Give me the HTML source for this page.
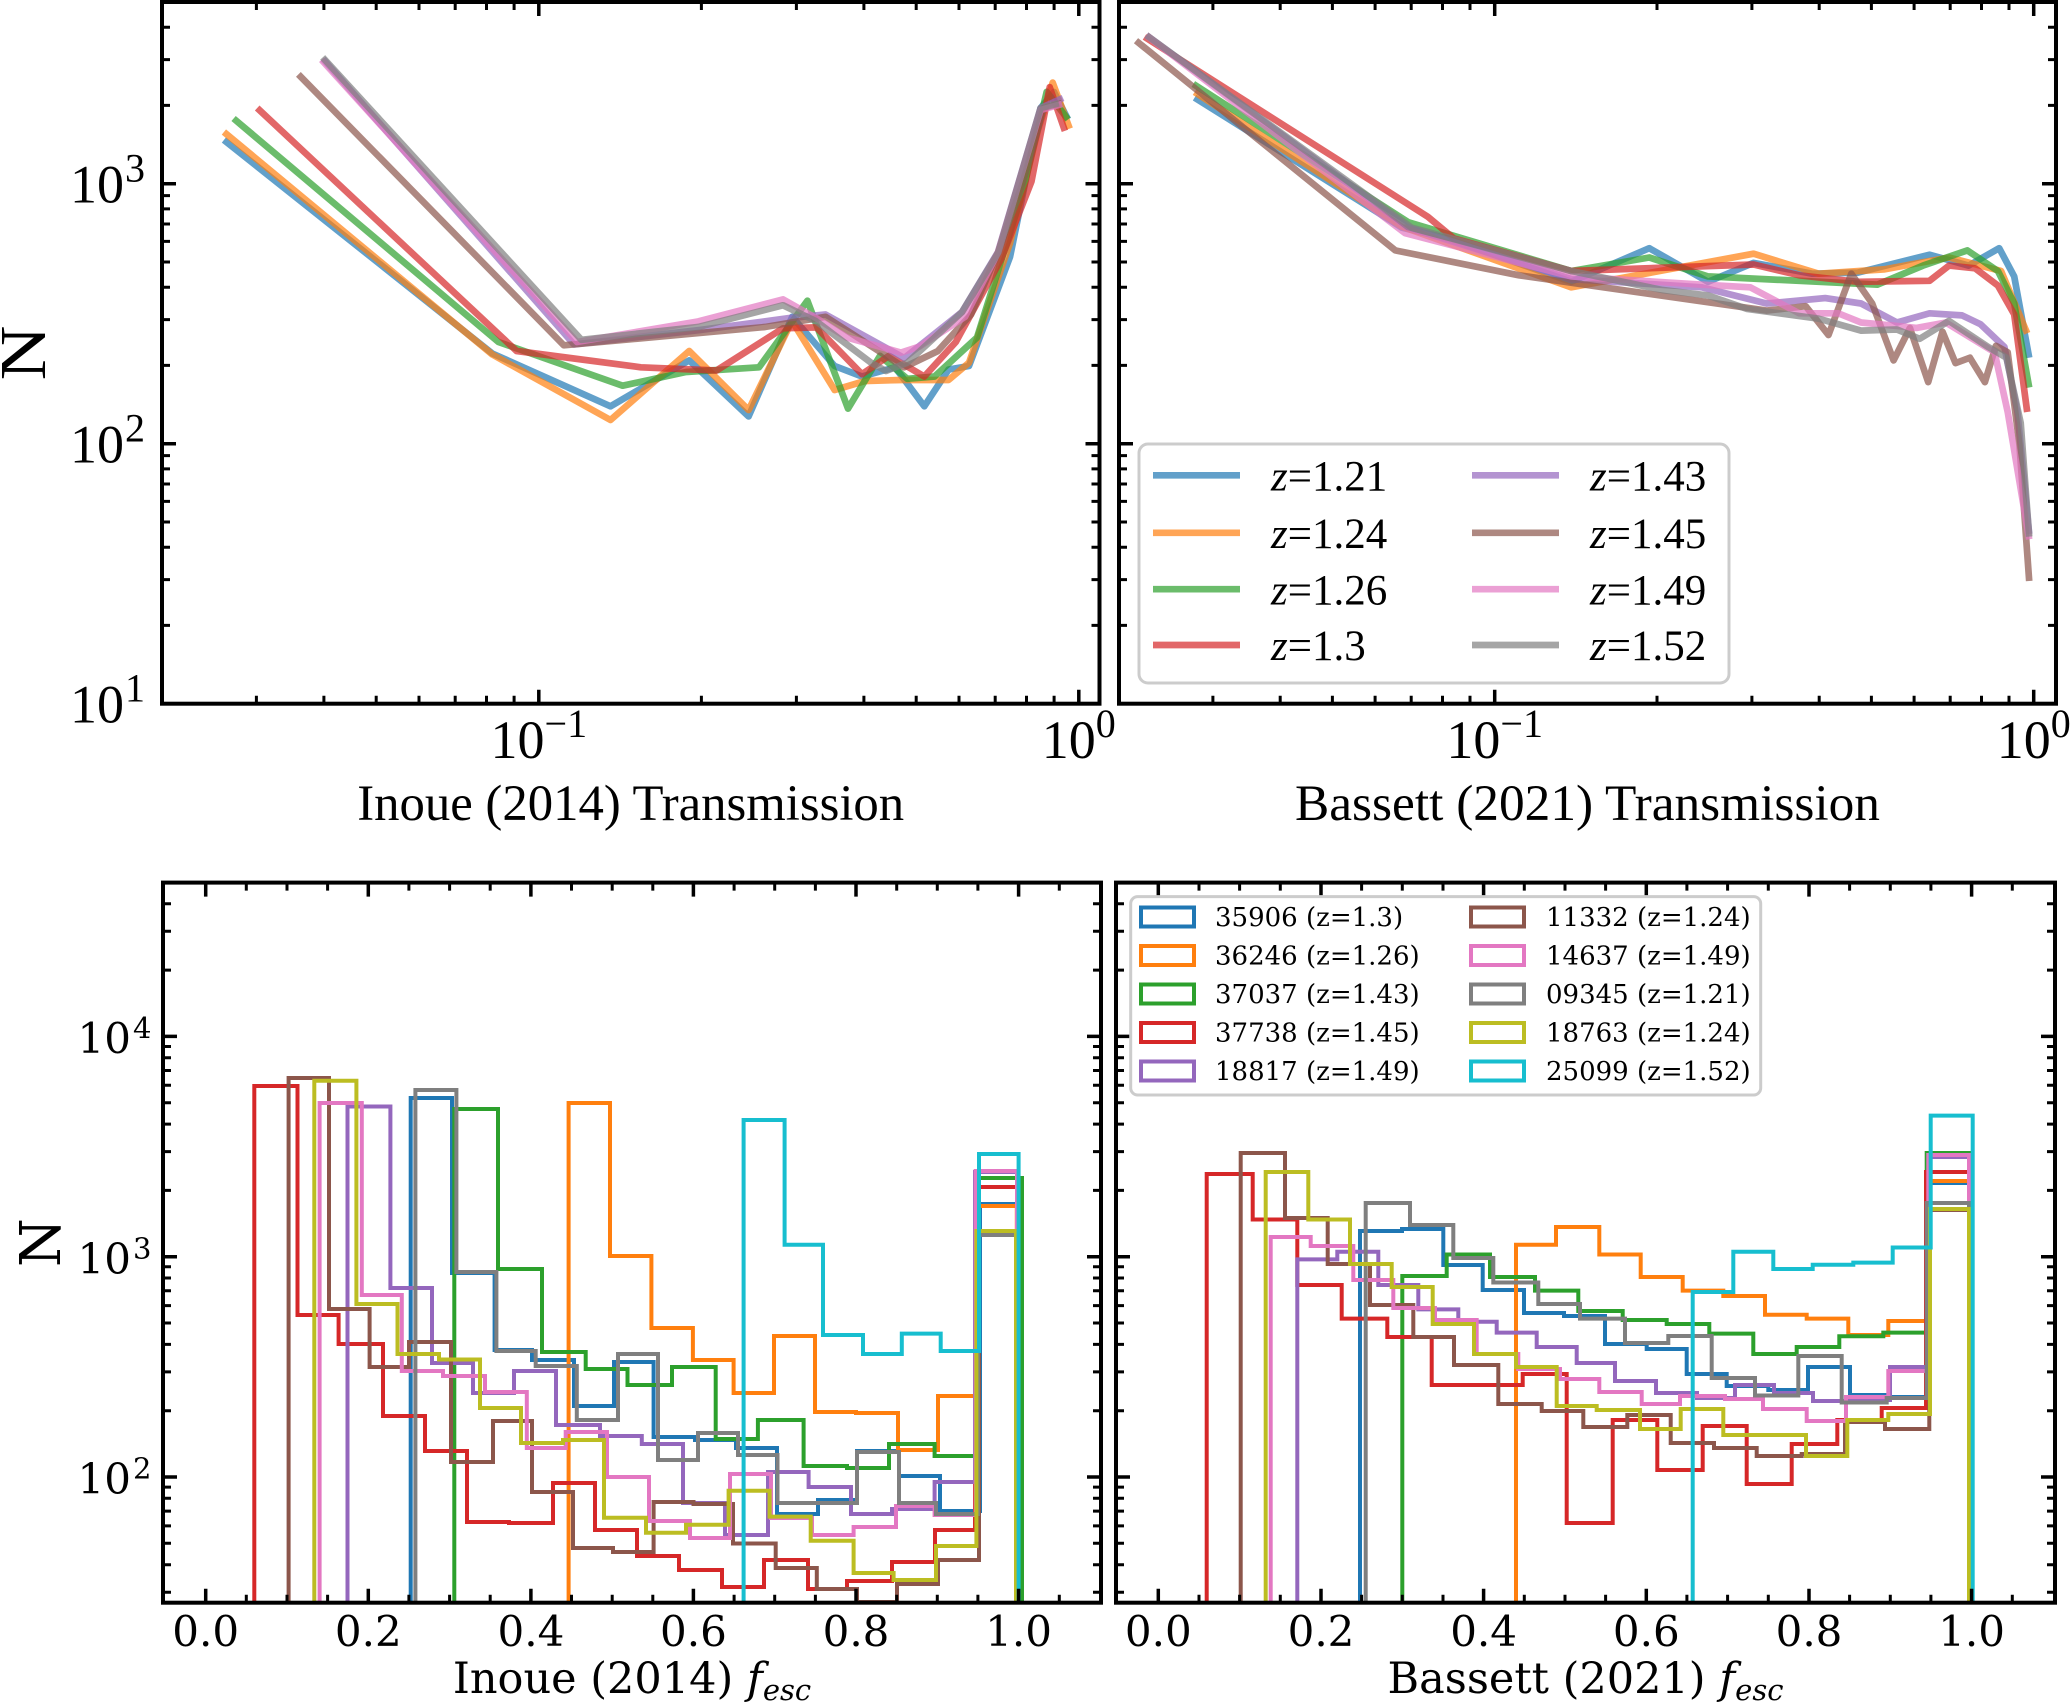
<!DOCTYPE html>
<html><head><meta charset="utf-8"><style>html,body{margin:0;padding:0;background:#fff}svg{display:block}</style></head>
<body>
<svg width="2070" height="1704" viewBox="0 0 2070 1704">
<rect width="2070" height="1704" fill="#fff"/>
<defs>
<clipPath id="ctl"><rect x="162" y="2" width="937.5" height="701.7"/></clipPath>
<clipPath id="ctr"><rect x="1119" y="2" width="937" height="701.7"/></clipPath>
<clipPath id="cbl"><rect x="163" y="882.6" width="938" height="720.1"/></clipPath>
<clipPath id="cbr"><rect x="1116" y="882.6" width="939" height="720.1"/></clipPath>
<path id="a1" d="M256.4 0v8M323.9 0v8M376.2 0v8M419 0v8M455.2 0v8M486.5 0v8M514.1 0v8M701.4 0v8M796.4 0v8M863.9 0v8M916.2 0v8M959 0v8M995.2 0v8M1026.5 0v8M1054.1 0v8"/>
<path id="a2" d="M538.8 0v14M1078.8 0v14"/>
<path id="b1" d="M1212.9 0v8M1280.2 0v8M1332.4 0v8M1375.1 0v8M1411.2 0v8M1442.5 0v8M1470 0v8M1657 0v8M1751.9 0v8M1819.2 0v8M1871.4 0v8M1914.1 0v8M1950.2 0v8M1981.5 0v8M2009 0v8"/>
<path id="b2" d="M1494.7 0v14M2033.7 0v14"/>
<path id="c1" d="M0 625.4h8M0 579.65h8M0 547.2h8M0 522h8M0 501.4h8M0 484h8M0 468.9h8M0 455.6h8M0 365.4h8M0 319.65h8M0 287.2h8M0 262h8M0 241.4h8M0 224h8M0 208.9h8M0 195.6h8M0 105.4h8M0 59.65h8M0 27.2h8"/>
<path id="c2" d="M0 443.7h14M0 183.7h14"/>
<path id="d1" d="M246.3 0v8M287 0v8M327.6 0v8M408.9 0v8M449.6 0v8M490.2 0v8M571.5 0v8M612.2 0v8M652.8 0v8M734.1 0v8M774.7 0v8M815.4 0v8M896.7 0v8M937.3 0v8M977.9 0v8M1059.3 0v8"/>
<path id="d2" d="M205.7 0v14M368.3 0v14M530.9 0v14M693.4 0v14M856 0v14M1018.6 0v14"/>
<path id="e1" d="M1199 0v8M1239.6 0v8M1280.3 0v8M1361.6 0v8M1402.3 0v8M1443 0v8M1524.3 0v8M1565 0v8M1605.6 0v8M1686.9 0v8M1727.6 0v8M1768.3 0v8M1849.6 0v8M1890.3 0v8M1930.9 0v8M2012.3 0v8"/>
<path id="e2" d="M1158.3 0v14M1321 0v14M1483.6 0v14M1646.3 0v14M1809 0v14M1971.6 0v14"/>
<path id="f1" d="M0 1592.2h8M0 1564.7h8M0 1543.3h8M0 1525.9h8M0 1511.1h8M0 1498.3h8M0 1487.1h8M0 1410.7h8M0 1371.9h8M0 1344.4h8M0 1323h8M0 1305.6h8M0 1290.8h8M0 1278h8M0 1266.8h8M0 1190.4h8M0 1151.6h8M0 1124.1h8M0 1102.7h8M0 1085.3h8M0 1070.5h8M0 1057.7h8M0 1046.5h8M0 970.1h8M0 931.3h8M0 903.8h8"/>
<path id="f2" d="M0 1477h14M0 1256.7h14M0 1036.4h14"/>
</defs>

<!-- TOP LEFT lines -->
<g clip-path="url(#ctl)" fill="none" stroke-width="6.7" stroke-opacity="0.7" stroke-linejoin="round">
<polyline stroke="#1f77b4" points="223.9,140 492.3,353.5 610.5,406.3 689.2,360.4 748.6,416.4 792.2,316.8 834.6,366 862,376.5 895,367.3 924.3,406.3 948.5,369.6 969,366 1010,257 1040.6,108 1054,92 1068,119.4"/>
<polyline stroke="#ff7f0e" points="223.9,132 492.3,354.5 610.5,420 689.2,351 748.6,410 792,321 834.6,390 865,381 901,380 948.5,380 969,362.7 1010,243 1038,130 1052.7,82.6 1069.7,128.6"/>
<polyline stroke="#2ca02c" points="233.6,118.5 498.4,342 622.6,385.7 686,372 759,367.3 807.4,300.7 848,408.6 880,355.8 907.3,378.8 934.6,376.5 977,337.5 1022.5,192.8 1046.7,91.8 1068,119.4"/>
<polyline stroke="#d62728" points="257.2,108 516.6,351 640.8,367.3 716.5,370.5 783,328.3 816.4,327.4 862,374.2 889,355.8 924.3,376.5 955.8,342 1001,259.4 1031.5,181.4 1049.7,87.2 1064.9,130.9"/>
<polyline stroke="#9467bd" points="323,59 574,344.4 700,330 790,318 825.6,314.5 904.3,358 962,312 998,252 1040.6,108 1063,98"/>
<polyline stroke="#8c564b" points="298.4,74.4 563.8,345.3 765,327 798,321.4 825.6,316.8 904,367.3 937.6,351.2 971,314.5 998,252.5 1022.5,183.7 1043.7,108 1061.8,103.3"/>
<polyline stroke="#e377c2" points="321.5,59.7 577,342 698.3,321.4 783.1,299.4 816,318 846.8,337.5 901,352.6 919.5,346.6 965,316.8 998,252.5 1040.6,110 1062,104"/>
<polyline stroke="#7f7f7f" points="322.7,57.4 581.4,339.8 698.3,327 783.1,305.3 816.4,321.4 871,362.7 886,371 907.3,362.7 961.9,312.2 998.2,252.5 1040.6,108 1058.8,103.3"/>
</g>

<!-- TOP RIGHT lines -->
<g clip-path="url(#ctr)" fill="none" stroke-width="6.7" stroke-opacity="0.7" stroke-linejoin="round">
<polyline stroke="#1f77b4" points="1194.6,97.6 1401.8,227.6 1447.4,238.5 1571.2,281.8 1649.3,248.2 1708,281.8 1753.6,262.9 1812.2,273.7 1857.8,272.6 1929.5,254.7 1968.6,265.6 1999.2,248.2 2014.2,276.4 2029.2,357.7"/>
<polyline stroke="#ff7f0e" points="1194.6,92.1 1401.8,226.6 1571.2,287.3 1753.6,253.7 1818.7,273.7 1883.9,269.4 1949,257.5 2001.1,271 2027.2,333.3"/>
<polyline stroke="#2ca02c" points="1193.3,84 1408.3,222.2 1571.2,271 1649.3,257.5 1708,276.4 1877.4,284.6 1923,265.6 1967.3,250.4 1997.9,271 2014.2,303.5 2029.2,387.5"/>
<polyline stroke="#d62728" points="1144.5,36.9 1427.9,216.8 1453.9,238.5 1571.2,271 1753.6,264.5 1799.2,275.3 1857.8,281.8 1929.5,280.8 1949,265.6 1975.1,268.3 1997.9,285.6 2014.2,314.4 2027.2,412"/>
<polyline stroke="#9467bd" points="1146.4,35.2 1408.3,227.6 1571.2,279.1 1701.5,287.3 1766.6,303.5 1825.2,298.1 1861.1,303.5 1896.9,322.5 1929.5,313.3 1962,315.4 1980.3,324.1 2004.4,346.9 2017.4,412 2029.2,533.9"/>
<polyline stroke="#8c564b" points="1136,40.7 1395.3,250.4 1519,275.3 1766.6,310.6 1805.7,306.2 1828.5,335 1851.3,273.7 1872.2,303.5 1893.6,360.4 1909.9,328 1928.2,382.1 1942.5,331.7 1955.5,363.1 1969.9,357.7 1984.9,382.1 1995.9,345.8 2007.7,352.3 2019.4,444.4 2029.2,581"/>
<polyline stroke="#e377c2" points="1146.4,35.2 1405,233.1 1571.2,276.4 1701.5,284.6 1750.3,287.3 1799.2,313.3 1838.3,313.3 1861.1,322.5 1916.5,327.9 1945.8,322.5 1994.6,352.3 2007.7,412 2029.2,539.3"/>
<polyline stroke="#7f7f7f" points="1146.4,35.2 1411.6,227.6 1571.2,271 1662.4,290 1708,295.4 1747.1,308.9 1818.7,318.7 1861.1,330.6 1896.9,329.5 1919.7,338.8 1949,320.9 1988.1,346.9 2006.4,357.7 2020.7,422.8 2029.2,536.6"/>
</g>

<!-- BOTTOM LEFT hist -->
<g clip-path="url(#cbl)" fill="none" stroke-width="4">
<path stroke="#1f77b4" d="M410.7 1610V1098H452V1273H494.6V1350H532V1360H574V1406H614V1362H653.6V1437H695V1440H736V1448H777V1514H818V1500H857V1451H899V1476H940V1511H980V1204H1017V1610"/>
<path stroke="#ff7f0e" d="M568.6 1610V1103H610V1256H651.4V1328H692.9V1360H733.6V1393H774V1336H815V1412H856V1413H898V1450H938V1396H975V1206H1016.8V1610"/>
<path stroke="#2ca02c" d="M454.3 1610V1109H498V1269H542V1352H585.7V1369H627.5V1385H672V1367H715.7V1439H757.9V1420H803.6V1466H847V1468H889V1444H934.6V1456H975V1178H1022V1610"/>
<path stroke="#d62728" d="M254.3 1610V1086H297.5V1315H338.6V1344H383V1416H425V1451H467V1522H509V1523H553V1483H595V1530H637V1556H679V1570H722V1587H764V1560H808V1589H847V1581H892V1562H935V1530H975V1187H1017V1610"/>
<path stroke="#9467bd" d="M347.5 1610V1106.5H390.4V1288H432V1363H473V1393H514V1371H556V1425H600V1436H641.8V1444H683V1503H725V1535H768V1472H808.6V1487H851V1514H892V1509H934.6V1482H975V1172H1017V1610"/>
<path stroke="#8c564b" d="M288.6 1610V1078H329V1309H369.6V1367H409V1342H451V1462H493V1421H532V1492H573V1548H613V1552H653.6V1502H693.5V1504H733V1543.5H775.7V1568H816.8V1589H857V1602H897V1584H938V1560H979V1232H1017V1610"/>
<path stroke="#e377c2" d="M319.6 1610V1103H361.8V1295H401.8V1371H443V1376H485V1392H526.8V1448H565.7V1432H607V1477H649V1521H690V1538H730V1474H771V1518H812V1535H853.6V1527H896V1506H934.6V1515H975.7V1171H1017V1610"/>
<path stroke="#7f7f7f" d="M415.4 1610V1090H456.4V1272H496.4V1351H535.7V1366H576.8V1420H618V1354H658V1460H698V1433H738V1455H777.5V1503H818V1503H857V1452H899V1503H936V1514H978V1235H1017V1610"/>
<path stroke="#bcbd22" d="M314.3 1610V1080.7H356.4V1304H397.5V1354H439V1359.5H480V1408H521V1443H563V1440H604V1517.7H646V1532.8H686V1524.7H728.6V1490.8H769.6V1516.6H810.7V1540.8H853.6V1573H893.6V1580H936V1546H976.4V1231H1016V1610"/>
<path stroke="#17becf" d="M743.6 1610V1120H784.6V1244.8H823V1335H863V1354H901.8V1333.6H940.7V1351H979V1154H1018.6V1610"/>
</g>

<!-- BOTTOM RIGHT hist -->
<g clip-path="url(#cbr)" fill="none" stroke-width="4">
<path stroke="#1f77b4" d="M1360 1610V1231H1402V1229H1443.3V1265H1482.7V1290H1524V1313H1564V1316H1605V1344H1646.7V1349H1686.7V1374H1726.7V1386H1768.3V1390H1808V1367H1850V1395H1890V1397H1930V1183H1970V1610"/>
<path stroke="#ff7f0e" d="M1516 1610V1244.8H1556V1227H1599.3V1254.5H1640.7V1277H1682.7V1290.6H1723.3V1296H1765V1314.8H1806.7V1318.6H1848.3V1335H1888.3V1321H1928.3V1181H1969V1610"/>
<path stroke="#2ca02c" d="M1402.3 1610V1276H1446.7V1254.5H1490V1277H1535V1290.6H1578.3V1311H1622.7V1320H1666.7V1324H1709.3V1333.6H1753.3V1354H1796.7V1347H1839.3V1336.3H1883.3V1332.6H1926.7V1153H1969V1610"/>
<path stroke="#d62728" d="M1206.7 1610V1174H1252.7V1219.5H1297.3V1285H1341.7V1318.6H1387.3V1337H1431.7V1385H1477V1385H1522.7V1374H1566.7V1523H1612.7V1420H1657.3V1470H1702.7V1426H1746.7V1484H1791.7V1444H1837.3V1420H1881.7V1408H1926V1172H1969.3V1610"/>
<path stroke="#9467bd" d="M1297.3 1610V1259.4H1337.3V1251.8H1378.3V1285H1418.3V1309.4H1458.3V1321.8H1496.7V1332.6H1536.7V1347H1576.7V1363H1615V1381H1656V1393H1697V1398H1735V1385H1774V1393H1813V1401H1850V1400H1890V1367H1930V1157H1969V1610"/>
<path stroke="#8c564b" d="M1240.7 1610V1153H1285V1218H1327.7V1264H1370V1305H1413.3V1337H1454V1365H1498.3V1404H1541.7V1411H1583.3V1427H1627.3V1415H1670.7V1443H1714V1448H1756.7V1456H1801.7V1454H1845V1422H1885V1429H1929.3V1210H1969V1610"/>
<path stroke="#e377c2" d="M1270.7 1610V1237H1310.7V1246H1353.3V1280H1393.3V1308H1435V1320H1476.7V1354H1518.3V1369H1560V1379H1599.3V1392H1641.7V1404H1680V1396H1725V1399H1763V1409H1806.7V1421H1846V1397H1888.3V1371H1928.3V1155H1969V1610"/>
<path stroke="#7f7f7f" d="M1365.7 1610V1203H1410V1225H1453.3V1258H1493.3V1282.5H1538.3V1304H1580V1318.6H1625V1343H1668.3V1336H1711.7V1378H1755V1395.5H1798.3V1356H1841.7V1402.5H1886.7V1398H1926.7V1203H1969V1610"/>
<path stroke="#bcbd22" d="M1265.7 1610V1172H1308.3V1219.5H1350V1264H1391.7V1287H1432.7V1324H1474V1354H1516V1367H1556.7V1406H1596.7V1410H1640V1429H1680.7V1409H1723.3V1435H1806V1456H1847.3V1420H1888.3V1414H1930V1209H1969V1610"/>
<path stroke="#17becf" d="M1692.7 1610V1292H1733.3V1251.8H1773.3V1269H1812.7V1264.7H1853.3V1262.6H1892.7V1247.5H1930.7V1115.6H1972.7V1610"/>
</g>

<!-- ticks -->
<g stroke="#000" fill="none" stroke-width="3">
<use href="#a1" transform="translate(0,2)"/><use href="#a1" transform="translate(0,703.7) scale(1,-1)"/>
<use href="#b1" transform="translate(0,2)"/><use href="#b1" transform="translate(0,703.7) scale(1,-1)"/>
<use href="#c1" transform="translate(162,0)"/><use href="#c1" transform="translate(1099.5,0) scale(-1,1)"/>
<use href="#c1" transform="translate(1119,0)"/><use href="#c1" transform="translate(2056,0) scale(-1,1)"/>
<use href="#d1" transform="translate(0,882.6)"/><use href="#d1" transform="translate(0,1602.7) scale(1,-1)"/>
<use href="#e1" transform="translate(0,882.6)"/><use href="#e1" transform="translate(0,1602.7) scale(1,-1)"/>
<use href="#f1" transform="translate(163,0)"/><use href="#f1" transform="translate(1101,0) scale(-1,1)"/>
<use href="#f1" transform="translate(1116,0)"/><use href="#f1" transform="translate(2055,0) scale(-1,1)"/>
</g>
<g stroke="#000" fill="none" stroke-width="3.5">
<use href="#a2" transform="translate(0,2)"/><use href="#a2" transform="translate(0,703.7) scale(1,-1)"/>
<use href="#b2" transform="translate(0,2)"/><use href="#b2" transform="translate(0,703.7) scale(1,-1)"/>
<use href="#c2" transform="translate(162,0)"/><use href="#c2" transform="translate(1099.5,0) scale(-1,1)"/>
<use href="#c2" transform="translate(1119,0)"/><use href="#c2" transform="translate(2056,0) scale(-1,1)"/>
<use href="#d2" transform="translate(0,882.6)"/><use href="#d2" transform="translate(0,1602.7) scale(1,-1)"/>
<use href="#e2" transform="translate(0,882.6)"/><use href="#e2" transform="translate(0,1602.7) scale(1,-1)"/>
<use href="#f2" transform="translate(163,0)"/><use href="#f2" transform="translate(1101,0) scale(-1,1)"/>
<use href="#f2" transform="translate(1116,0)"/><use href="#f2" transform="translate(2055,0) scale(-1,1)"/>
</g>

<!-- spines -->
<g fill="none" stroke="#000" stroke-width="4">
<rect x="162" y="2" width="937.5" height="701.7"/>
<rect x="1119" y="2" width="937" height="701.7"/>
<rect x="163" y="882.6" width="938" height="720.1"/>
<rect x="1116" y="882.6" width="939" height="720.1"/>
</g>

<!-- top-right legend -->
<rect x="1139" y="444" width="590" height="239" rx="9" fill="#fff" fill-opacity="0.8" stroke="#cccccc" stroke-width="3"/>
<g stroke-width="6.7" stroke-opacity="0.7">
<line x1="1153" y1="475.3" x2="1240" y2="475.3" stroke="#1f77b4"/>
<line x1="1153" y1="532.8" x2="1240" y2="532.8" stroke="#ff7f0e"/>
<line x1="1153" y1="589.2" x2="1240" y2="589.2" stroke="#2ca02c"/>
<line x1="1153" y1="645" x2="1240" y2="645" stroke="#d62728"/>
<line x1="1472" y1="475.3" x2="1559" y2="475.3" stroke="#9467bd"/>
<line x1="1472" y1="532.8" x2="1559" y2="532.8" stroke="#8c564b"/>
<line x1="1472" y1="589.2" x2="1559" y2="589.2" stroke="#e377c2"/>
<line x1="1472" y1="645" x2="1559" y2="645" stroke="#7f7f7f"/>
</g>
<g font-family="'Liberation Serif', serif" font-size="43" fill="#000">
<text x="1271" y="490.5"><tspan font-style="italic">z</tspan>=1.21</text>
<text x="1271" y="548"><tspan font-style="italic">z</tspan>=1.24</text>
<text x="1271" y="604.4"><tspan font-style="italic">z</tspan>=1.26</text>
<text x="1271" y="660.2"><tspan font-style="italic">z</tspan>=1.3</text>
<text x="1590" y="490.5"><tspan font-style="italic">z</tspan>=1.43</text>
<text x="1590" y="548"><tspan font-style="italic">z</tspan>=1.45</text>
<text x="1590" y="604.4"><tspan font-style="italic">z</tspan>=1.49</text>
<text x="1590" y="660.2"><tspan font-style="italic">z</tspan>=1.52</text>
</g>

<!-- bottom-right legend -->
<rect x="1130.7" y="896.6" width="630" height="198.4" rx="7" fill="#fff" fill-opacity="0.8" stroke="#cccccc" stroke-width="3"/>
<g fill="none" stroke-width="4">
<rect x="1141" y="907.5" width="53" height="19" stroke="#1f77b4"/>
<rect x="1141" y="946" width="53" height="19" stroke="#ff7f0e"/>
<rect x="1141" y="984.5" width="53" height="19" stroke="#2ca02c"/>
<rect x="1141" y="1023" width="53" height="19" stroke="#d62728"/>
<rect x="1141" y="1061.5" width="53" height="19" stroke="#9467bd"/>
<rect x="1471" y="907.5" width="53" height="19" stroke="#8c564b"/>
<rect x="1471" y="946" width="53" height="19" stroke="#e377c2"/>
<rect x="1471" y="984.5" width="53" height="19" stroke="#7f7f7f"/>
<rect x="1471" y="1023" width="53" height="19" stroke="#bcbd22"/>
<rect x="1471" y="1061.5" width="53" height="19" stroke="#17becf"/>
</g>
<g font-family="'DejaVu Serif', serif" font-size="26" fill="#000">
<text x="1215" y="926">35906 (z=1.3)</text>
<text x="1215" y="964.5">36246 (z=1.26)</text>
<text x="1215" y="1003">37037 (z=1.43)</text>
<text x="1215" y="1041.5">37738 (z=1.45)</text>
<text x="1215" y="1080">18817 (z=1.49)</text>
<text x="1546" y="926">11332 (z=1.24)</text>
<text x="1546" y="964.5">14637 (z=1.49)</text>
<text x="1546" y="1003">09345 (z=1.21)</text>
<text x="1546" y="1041.5">18763 (z=1.24)</text>
<text x="1546" y="1080">25099 (z=1.52)</text>
</g>

<!-- top text -->
<g font-family="'Liberation Serif', serif" fill="#000">
<g font-size="54">
<text x="124" y="202.7" text-anchor="end">10</text><text x="125" y="181.7" font-size="40">3</text>
<text x="124" y="462.7" text-anchor="end">10</text><text x="125" y="441.7" font-size="40">2</text>
<text x="124" y="722.7" text-anchor="end">10</text><text x="125" y="701.7" font-size="40">1</text>
<text x="538.8" y="758" text-anchor="middle">10<tspan dy="-21" font-size="40">−1</tspan></text>
<text x="1078.8" y="758" text-anchor="middle">10<tspan dy="-21" font-size="40">0</tspan></text>
<text x="1494.7" y="758" text-anchor="middle">10<tspan dy="-21" font-size="40">−1</tspan></text>
<text x="2033.7" y="758" text-anchor="middle">10<tspan dy="-21" font-size="40">0</tspan></text>
</g>
<text x="630.7" y="820" font-size="51" text-anchor="middle" textLength="547" lengthAdjust="spacingAndGlyphs">Inoue (2014) Transmission</text>
<text x="1587.5" y="820" font-size="51" text-anchor="middle" textLength="585" lengthAdjust="spacingAndGlyphs">Bassett (2021) Transmission</text>
<text transform="translate(45,353) rotate(-90)" font-size="66" text-anchor="middle" textLength="55" lengthAdjust="spacingAndGlyphs">N</text>
</g>

<!-- bottom text -->
<g font-family="'DejaVu Serif', serif" fill="#000">
<g font-size="42">
<text x="131" y="1053" text-anchor="end">10</text><text x="133" y="1038" font-size="29">4</text>
<text x="131" y="1273.3" text-anchor="end">10</text><text x="133" y="1258.3" font-size="29">3</text>
<text x="131" y="1493.6" text-anchor="end">10</text><text x="133" y="1478.6" font-size="29">2</text>
<g text-anchor="middle">
<text x="205.7" y="1646">0.0</text><text x="368.3" y="1646">0.2</text><text x="530.9" y="1646">0.4</text>
<text x="693.4" y="1646">0.6</text><text x="856" y="1646">0.8</text><text x="1018.6" y="1646">1.0</text>
<text x="1158.3" y="1646">0.0</text><text x="1321" y="1646">0.2</text><text x="1483.6" y="1646">0.4</text>
<text x="1646.3" y="1646">0.6</text><text x="1809" y="1646">0.8</text><text x="1971.6" y="1646">1.0</text>
<text x="632" y="1693" font-size="43">Inoue (2014) <tspan font-style="italic">f</tspan><tspan font-style="italic" font-size="29" dy="7">esc</tspan></text>
<text x="1585.5" y="1693" font-size="43">Bassett (2021) <tspan font-style="italic">f</tspan><tspan font-style="italic" font-size="29" dy="7">esc</tspan></text>
</g>
</g>
<text transform="translate(60,1242.6) rotate(-90)" font-size="56" text-anchor="middle">N</text>
</g>
</svg>
</body></html>
